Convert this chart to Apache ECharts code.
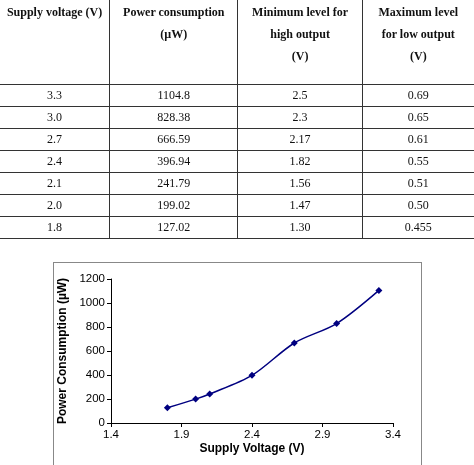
<!DOCTYPE html>
<html><head><meta charset="utf-8">
<script src="https://cdn.jsdelivr.net/npm/echarts@6/dist/echarts.min.js"></script>
<style>
html,body{margin:0;padding:0;background:#fff;}
#wrap{position:relative;width:474px;height:465px;overflow:hidden;}
#chart{position:absolute;left:0;top:0;width:474px;height:465px;}
table{position:absolute;left:0;top:0;width:474px;border-collapse:collapse;font-family:"Liberation Serif","DejaVu Serif",serif;font-size:12px;color:#111;}
td,th{border:1px solid #333;text-align:center;padding:0;height:21px;}
th{font-weight:bold;vertical-align:top;height:83px;line-height:22px;padding-top:1px;}
tr>*:first-child{border-left:none;} tr>*:last-child{border-right:none;}
tr:first-child>th{border-top:none;}
#box{position:absolute;left:53px;top:262px;width:367px;height:210px;border:1px solid #888;}
</style></head><body>
<div id="wrap">
<div id="box"></div>
<div id="chart"></div>
<table id="tbl"></table>
</div>
<script>
const headers = ["Supply voltage (V)","Power consumption<br>(µW)","Minimum level for<br>high output<br>(V)","Maximum level<br>for low output<br>(V)"];
const voltageLabels = ["3.3","3.0","2.7","2.4","2.1","2.0","1.8"];
const voltage = [3.3,3.0,2.7,2.4,2.1,2.0,1.8];
const power = [1104.8,828.38,666.59,396.94,241.79,199.02,127.02];
const powerLabels = ["1104.8","828.38","666.59","396.94","241.79","199.02","127.02"];
const minHigh = ["2.5","2.3","2.17","1.82","1.56","1.47","1.30"];
const maxLow = ["0.69","0.65","0.61","0.55","0.51","0.50","0.455"];

let html = "<tr>" + headers.map((h,i)=>'<th style="width:'+[110,128,124,112][i]+'px">'+h+"</th>").join("") + "</tr>";
for (let i=0;i<voltageLabels.length;i++){
  html += "<tr><td>"+voltageLabels[i]+"</td><td>"+powerLabels[i]+"</td><td>"+minHigh[i]+"</td><td>"+maxLow[i]+"</td></tr>";
}
document.getElementById("tbl").innerHTML = html;

const chart = echarts.init(document.getElementById("chart"));
const pts = voltage.map((v,i)=>[v,power[i]]).sort((a,b)=>a[0]-b[0]);
const f = {fontFamily:"Liberation Sans, Arial, sans-serif",color:"#000",fontSize:11.5};
chart.setOption({
  animation:false,
  grid:{left:111,right:81,top:279,bottom:42},
  xAxis:{type:"value",min:1.4,max:3.4,interval:0.5,
    name:"Supply Voltage (V)",nameLocation:"middle",nameGap:20,
    nameTextStyle:Object.assign({},f,{fontWeight:"bold",fontSize:12}),
    axisLine:{lineStyle:{color:"#000"}},axisTick:{show:true,length:4,lineStyle:{color:"#000"}},
    axisLabel:Object.assign({},f,{margin:6,formatter:v=>v.toFixed(1)}),splitLine:{show:false}},
  yAxis:{type:"value",min:0,max:1200,interval:200,
    name:"Power Consumption (µW)",nameLocation:"middle",nameGap:36,
    nameTextStyle:Object.assign({},f,{fontWeight:"bold",fontSize:12}),
    axisLine:{show:true,lineStyle:{color:"#000"}},axisTick:{show:true,length:4,lineStyle:{color:"#000"}},
    axisLabel:Object.assign({},f,{margin:6,formatter:v=>String(v)}),splitLine:{show:false}},
  series:[{type:"line",data:pts,smooth:0.3,symbol:"diamond",symbolSize:7,
    lineStyle:{color:"#000080",width:1.5},itemStyle:{color:"#000080"}}]
});
</script>
</body></html>
